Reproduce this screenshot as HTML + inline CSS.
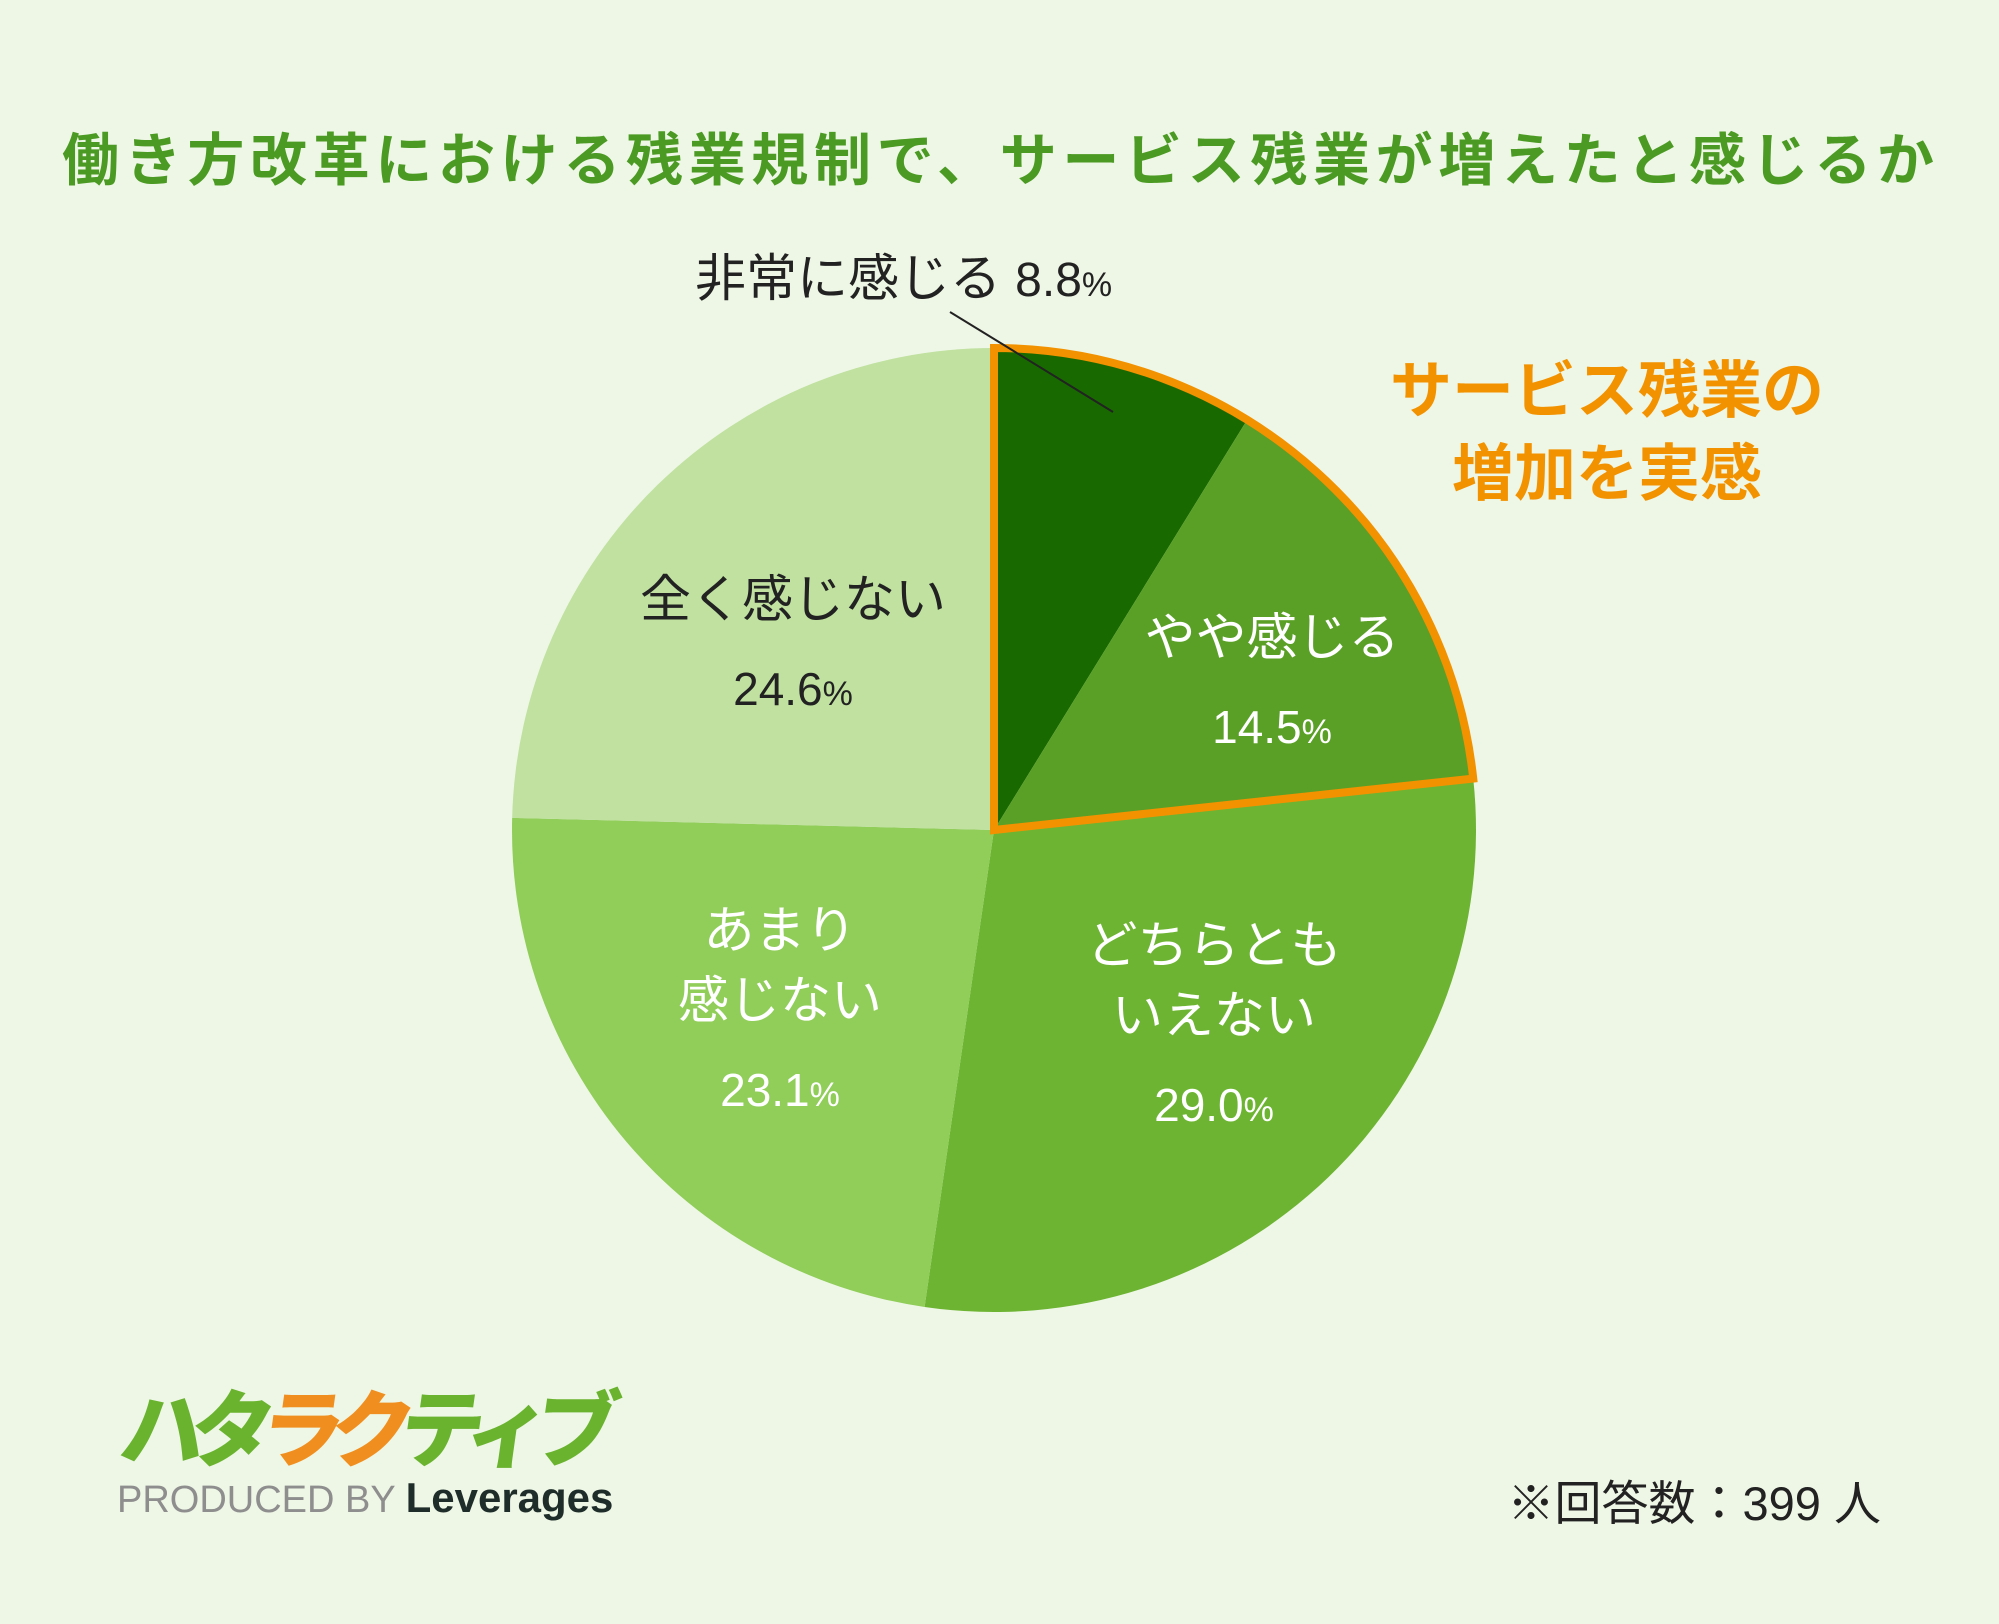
<!DOCTYPE html>
<html lang="ja"><head><meta charset="utf-8">
<style>
html,body{margin:0;padding:0;}
body{width:1999px;height:1619px;background:#eef7e6;overflow:hidden;font-family:"Liberation Sans","Noto Sans CJK JP",sans-serif;}
svg text{font-family:"Liberation Sans","Noto Sans CJK JP",sans-serif;}
</style></head>
<body>
<svg id="chart" width="1999" height="1619" viewBox="0 0 1999 1619" xmlns="http://www.w3.org/2000/svg">
<rect width="1999" height="1619" fill="#eef7e6"/>
<text x="62" y="180" font-size="57" font-weight="bold" fill="#4b9a23" textLength="1872" lengthAdjust="spacing">働き方改革における残業規制で、サービス残業が増えたと感じるか</text>
<g id="slices"></g>
<path id="hl" fill="none" stroke="#f39200" stroke-width="8" stroke-linejoin="miter"/>
<line x1="950" y1="312" x2="1113" y2="412" stroke="#222" stroke-width="2"/>
<text x="695" y="296" font-size="51" fill="#222">非常に感じる <tspan font-size="48">8.8</tspan><tspan font-size="34">%</tspan></text>
<text x="1607" y="412" text-anchor="middle" font-size="62" font-weight="bold" fill="#f39200">サービス残業の</text>
<text x="1607" y="495" text-anchor="middle" font-size="62" font-weight="bold" fill="#f39200">増加を実感</text>
<g id="labels"></g>
<text x="1881" y="1520" text-anchor="end" font-size="47" fill="#222">※回答数：399 人</text>
<g transform="translate(117,1460) skewX(-8)">
<text x="0" y="0" font-size="84" font-weight="900" textLength="500" letter-spacing="2"><tspan fill="#6ab32f">ハタ</tspan><tspan fill="#f08f1f">ラク</tspan><tspan fill="#6ab32f">ティブ</tspan></text>
</g>
<text x="117" y="1512" font-size="38" fill="#8e8e8e">PRODUCED BY <tspan fill="#1f2d2a" font-weight="bold" font-size="42">Leverages</tspan></text>
</svg>
<script>
const categories=["非常に感じる","やや感じる","どちらともいえない","あまり感じない","全く感じない"];
const values=[8.8,14.5,29.0,23.1,24.6];
const valueLabels=["8.8","14.5","29.0","23.1","24.6"];
const colors=["#186a00","#5aa026","#6db432","#90cd59","#c0e1a0"];
const labelLines=[[],["やや感じる"],["どちらとも","いえない"],["あまり","感じない"],["全く感じない"]];
const labelColors=["#222","#fff","#fff","#fff","#222"];
// label anchor offsets relative to pie centre (layout, not data)
const labelPos=[null,[278,-175],[220,133],[-214,118],[-201,-213]];
const cx=994,cy=830,r=482;
const NS="http://www.w3.org/2000/svg";
const total=values.reduce((a,b)=>a+b,0);
function pt(frac,rad){const a=frac*2*Math.PI-Math.PI/2;return [cx+rad*Math.cos(a),cy+rad*Math.sin(a)];}
const g=document.getElementById('slices'),lg=document.getElementById('labels');
let acc=0;
values.forEach((v,i)=>{
  const s=acc/total,e=(acc+v)/total;acc+=v;
  const p0=pt(s,r),p1=pt(e,r);
  const p=document.createElementNS(NS,'path');
  p.setAttribute('d',`M${cx},${cy}L${p0[0]},${p0[1]}A${r},${r} 0 ${e-s>0.5?1:0} 1 ${p1[0]},${p1[1]}Z`);
  p.setAttribute('fill',colors[i]);
  
  
  g.appendChild(p);
  if(labelLines[i].length){
    const x=cx+labelPos[i][0],y0=cy+labelPos[i][1];
    const lines=labelLines[i];
    const lh=70;
    lines.forEach((t,k)=>{
      const tx=document.createElementNS(NS,'text');
      tx.setAttribute('x',x);tx.setAttribute('y',y0+k*lh);
      tx.setAttribute('text-anchor','middle');tx.setAttribute('font-size','51');
      tx.setAttribute('fill',labelColors[i]);tx.textContent=t;
      
      
      lg.appendChild(tx);
    });
    const vt=document.createElementNS(NS,'text');
    vt.setAttribute('x',x);vt.setAttribute('y',y0+(lines.length-1)*lh+88);
    vt.setAttribute('text-anchor','middle');vt.setAttribute('font-size','46');
    vt.setAttribute('fill',labelColors[i]);
    vt.innerHTML=valueLabels[i]+'<tspan font-size="34">%</tspan>';
    
    
    lg.appendChild(vt);
  }
});
const e2=(values[0]+values[1])/total;
const a0=pt(0,r),a1=pt(e2,r);
document.getElementById('hl').setAttribute('d',`M${cx},${cy}L${a0[0]},${a0[1]}A${r},${r} 0 0 1 ${a1[0]},${a1[1]}Z`);
</script>
</body></html>
